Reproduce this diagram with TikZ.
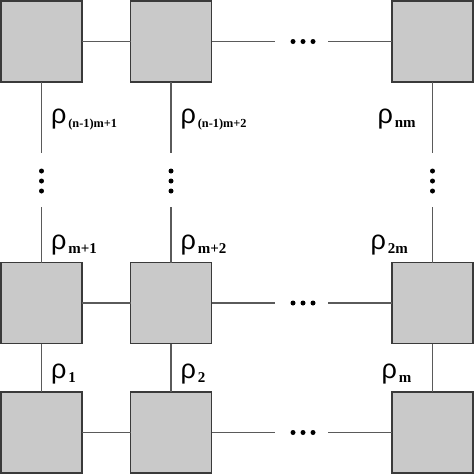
\documentclass[tikz,border=0pt]{standalone}
\usepackage{fontspec}
\setmainfont{Liberation Serif}
\newfontfamily\rhofont{Liberation Sans}
\definecolor{boxc}{HTML}{3A3A3A}
\definecolor{fillc}{HTML}{C9C9C9}
\definecolor{wirec}{HTML}{5A5A5A}
\newcommand\rholab[2][15]{{\rhofont\fontsize{27}{27}\selectfont ρ}\hspace{2pt}\raisebox{-4pt}{\fontsize{#1}{#1}\selectfont\bfseries #2}}
\begin{document}
\begin{tikzpicture}[x=1pt,y=-1pt,
  cell/.style={draw=boxc, fill=fillc, line width=1.6pt, minimum size=81pt, inner sep=0pt, outer sep=0pt},
  wire/.style={draw=wirec, line width=1.8pt},
  lab/.style={anchor=base west, inner sep=0pt, outer sep=0pt},
  dotmark/.style={fill=black}]
\useasboundingbox (0,0) rectangle (474,474);
% boxes
\node[cell] (t1) at (41.5,41.5) {};
\node[cell] (t2) at (171,41.5) {};
\node[cell] (t3) at (432.5,41.5) {};
\node[cell] (m1) at (41.5,303) {};
\node[cell] (m2) at (171,303) {};
\node[cell] (m3) at (432.5,303) {};
\node[cell] (b1) at (41.5,432.5) {};
\node[cell] (b2) at (171,432.5) {};
\node[cell] (b3) at (432.5,432.5) {};
% gap coordinates (horizontal)
\coordinate (th1) at (275,41.5);  \coordinate (th2) at (328,41.5);
\coordinate (mh1) at (275,303);   \coordinate (mh2) at (328,303);
\coordinate (bh1) at (275,432.5); \coordinate (bh2) at (328,432.5);
% gap coordinates (vertical)
\coordinate (v1a) at (41.5,153); \coordinate (v1b) at (41.5,207);
\coordinate (v2a) at (171,153);  \coordinate (v2b) at (171,207);
\coordinate (v3a) at (432.5,153);\coordinate (v3b) at (432.5,207);
% horizontal wires
\draw[wire] (t1.east) -- (t2.west);
\draw[wire] (t2.east) -- (th1);
\draw[wire] (th2) -- (t3.west);
\draw[wire] (m1.east) -- (m2.west);
\draw[wire] (m2.east) -- (mh1);
\draw[wire] (mh2) -- (m3.west);
\draw[wire] (b1.east) -- (b2.west);
\draw[wire] (b2.east) -- (bh1);
\draw[wire] (bh2) -- (b3.west);
% vertical wires
\draw[wire] (t1.south) -- (v1a);
\draw[wire] (v1b) -- (m1.north);
\draw[wire] (t2.south) -- (v2a);
\draw[wire] (v2b) -- (m2.north);
\draw[wire] (t3.south) -- (v3a);
\draw[wire] (v3b) -- (m3.north);
\draw[wire] (m1.south) -- (b1.north);
\draw[wire] (m2.south) -- (b2.north);
\draw[wire] (m3.south) -- (b3.north);
% dots
\foreach \y in {41.5,303,432.5}{
  \foreach \x in {293,303,313}{\fill[dotmark] (\x,\y) circle (2.5);}}
\foreach \x in {41.5,171,432.5}{
  \foreach \y in {171,181,191}{\fill[dotmark] (\x,\y) circle (2.5);}}
% labels
\node[lab] (l1) at (51,123) {\rholab[12.3]{(n-1)m+1}};
\node[lab] (l2) at (180.5,123) {\rholab[12.3]{(n-1)m+2}};
\node[lab] (l3) at (377.5,123) {\rholab{nm}};
\node[lab] (l4) at (51,249) {\rholab{m+1}};
\node[lab] (l5) at (180.5,249) {\rholab{m+2}};
\node[lab] (l6) at (370.5,249) {\rholab{2m}};
\node[lab] (l7) at (51,378) {\rholab{1}};
\node[lab] (l8) at (180.5,378) {\rholab{2}};
\node[lab] (l9) at (381.5,378) {\rholab{m}};
\end{tikzpicture}
\end{document}
